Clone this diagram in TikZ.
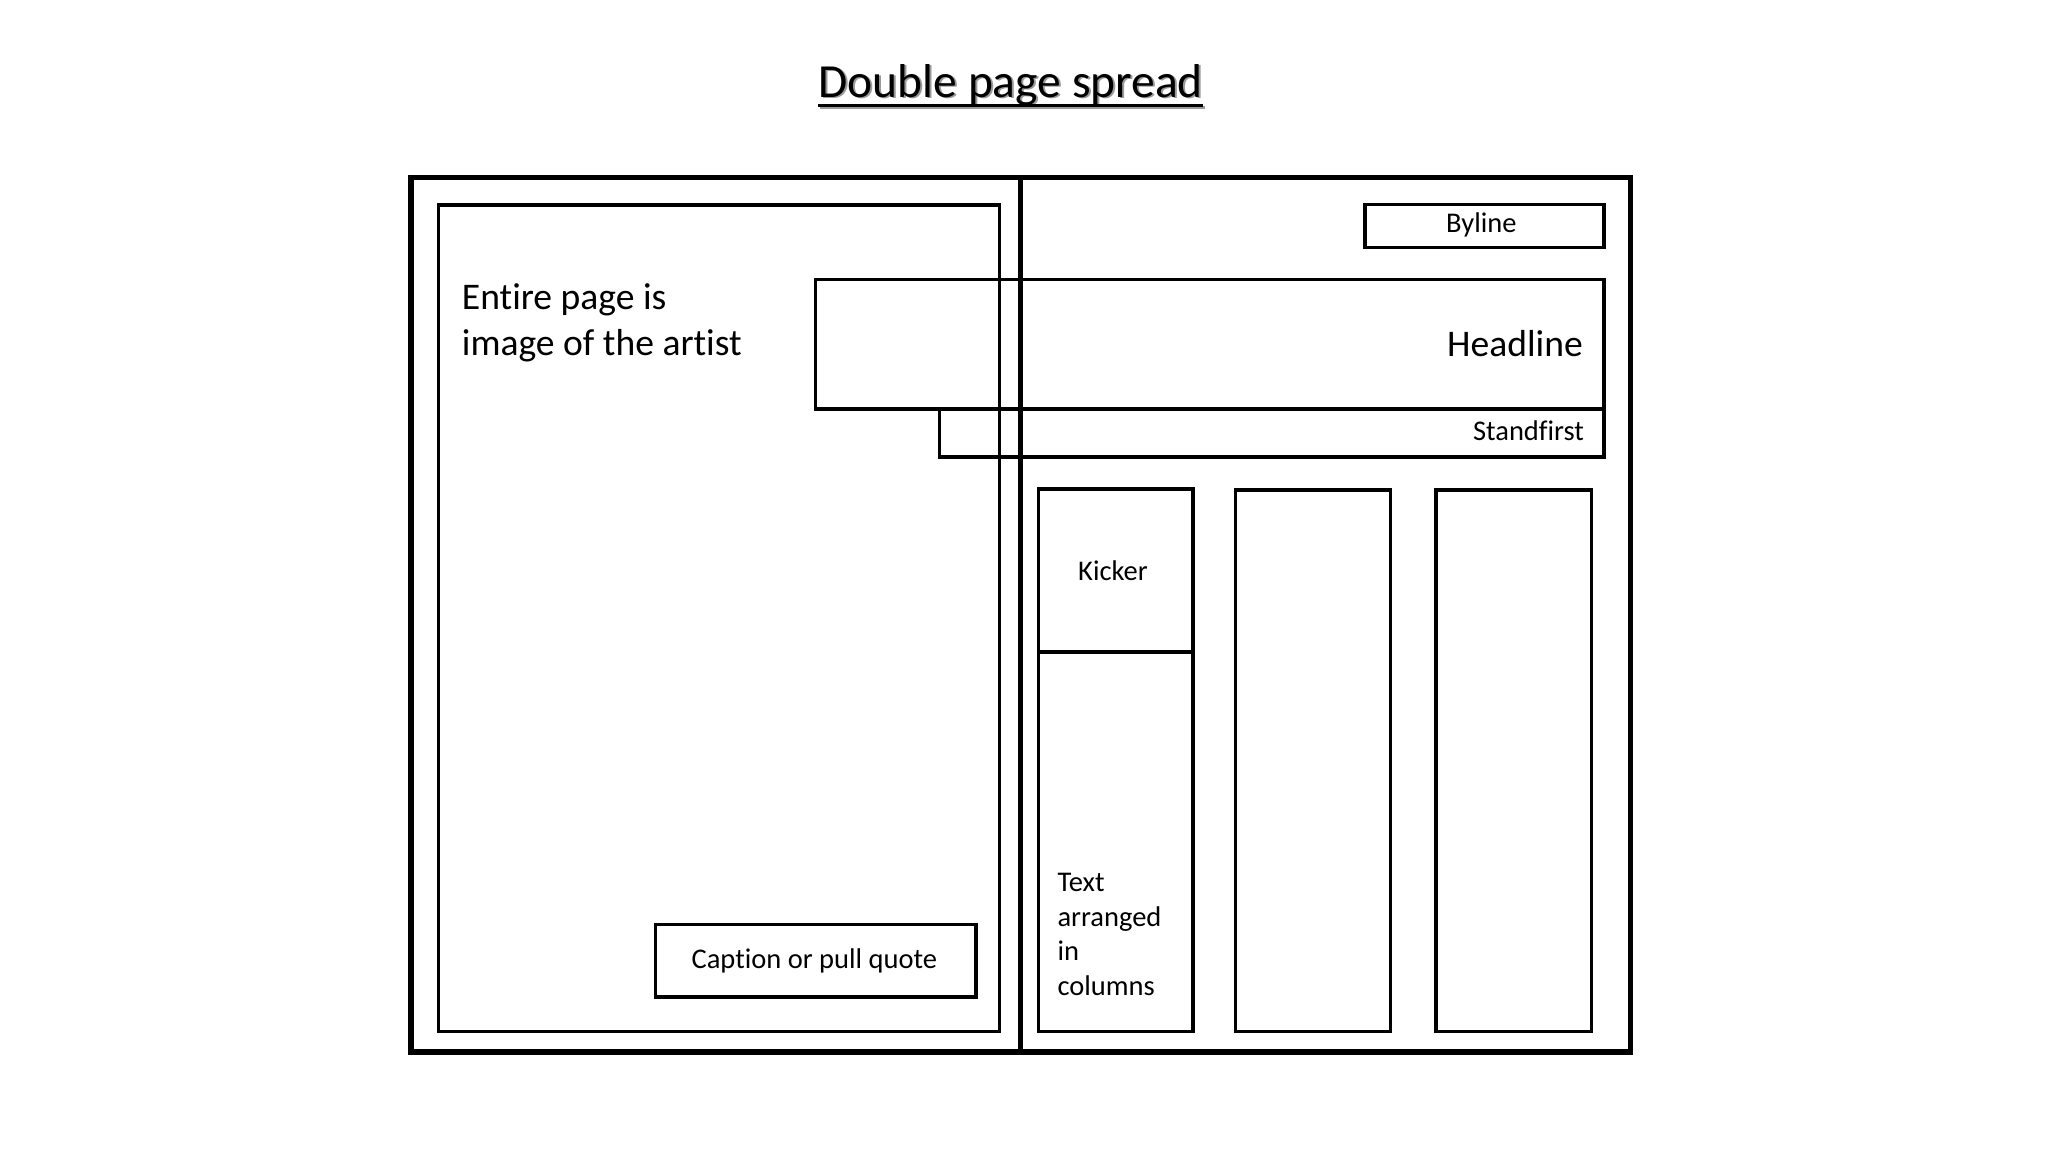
\documentclass[tikz,border=0pt]{standalone}
\usepackage{fontspec}
\setmainfont{Carlito}[Ligatures=NoCommon]
\begin{document}
\begin{tikzpicture}[x=1pt,y=-1pt,
  outerline/.style={line width=5.5pt},
  boxline/.style={line width=3.3pt},
  titlefont/.style={inner sep=0pt, font=\fontsize{47.5}{57}\selectfont},
  biglbl/.style={inner sep=0pt, font=\fontsize{37.6}{45.7}\selectfont},
  lbl/.style={inner sep=0pt, font=\fontsize{28.5}{34.4}\selectfont}]
\useasboundingbox (0,0) rectangle (2048,1152);
% title with shadow and underline
\node[titlefont, anchor=base, text=black!40] (titleshadow) at (1012.8,98.7) {Double page spread};
\draw[line width=3pt, black!40] ([yshift=-8.3pt]titleshadow.base west) -- ([yshift=-8.3pt]titleshadow.base east);
\node[titlefont, anchor=base] (title) at (1010.8,97.2) {Double page spread};
\draw[line width=3pt] ([yshift=-8.3pt]title.base west) -- ([yshift=-8.3pt]title.base east);
% spread outline and fold
\draw[outerline] (411,177.5) rectangle (1630.5,1052);
\draw[line width=5pt] (1020,177.5) -- (1020,1052);
% left page image area
\draw[boxline] (438.5,205) rectangle (999.5,1031.5);
% right page boxes
\draw[boxline] (1365,204.5) rectangle (1604,247.5);
\draw[boxline] (815.5,279.5) rectangle (1604,409);
\draw[boxline] (939.5,409) rectangle (1604,457);
\draw[boxline] (1038.5,489) rectangle (1193,1031.5);
\draw[boxline] (1038.5,652) -- (1193,652);
\draw[boxline] (1235.5,490) rectangle (1390.5,1031.5);
\draw[boxline] (1436,490) rectangle (1591.5,1031.5);
% caption
\draw[boxline] (655.5,924.5) rectangle (976,997);
% texts
\node[biglbl, anchor=base west] (img1) at (461.7,309.3) {Entire page is};
\node[biglbl, anchor=base west] (img2) at (461.7,355) {image of the artist};
\node[biglbl, anchor=base east] (headline) at (1583,356.7) {Headline};
\node[lbl, anchor=base] (byline) at (1481.3,232) {Byline};
\node[lbl, anchor=base east] (standfirst) at (1584.2,440) {Standfirst};
\node[lbl, anchor=base] (kicker) at (1113,580) {Kicker};
\node[lbl, anchor=base west] (col1) at (1057.3,891.7) {Text};
\node[lbl, anchor=base west] (col2) at (1057.3,926) {arranged};
\node[lbl, anchor=base west] (col3) at (1057.3,960.7) {in};
\node[lbl, anchor=base west] (col4) at (1057.3,995.3) {columns};
\node[lbl, anchor=base] (caption) at (814.4,968.3) {Caption or pull quote};
\end{tikzpicture}
\end{document}
